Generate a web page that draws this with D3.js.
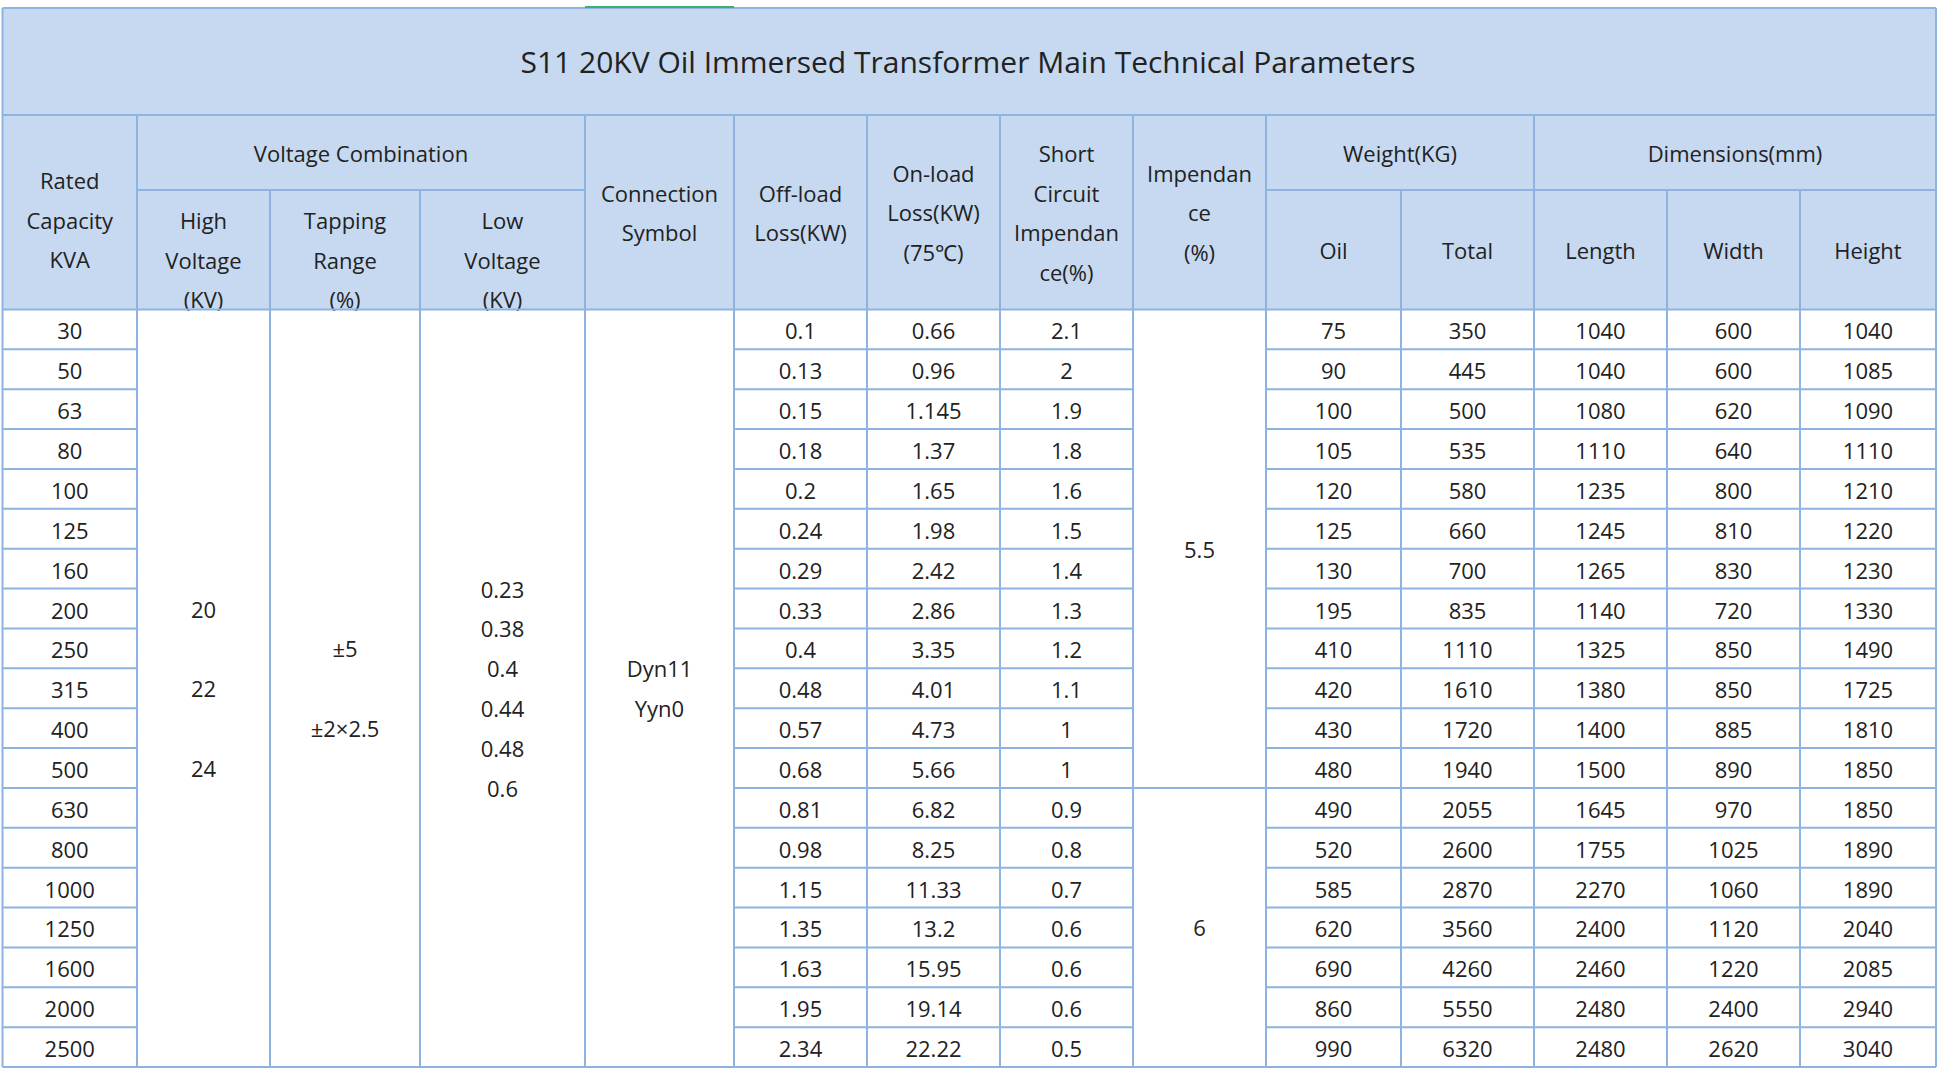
<!DOCTYPE html>
<html>
<head>
<meta charset="utf-8">
<script src="https://cdn.jsdelivr.net/npm/d3@7"></script>
<style>
  body { margin: 0; background: #fff; }
  svg text { font-family: "Open Sans", "Liberation Sans", sans-serif; fill: #222; }
</style>
</head>
<body>
<svg id="chart" width="1941" height="1073"></svg>
<script>
// table data
const title = 'S11 20KV Oil Immersed Transformer Main Technical Parameters';
const capacity = [30, 50, 63, 80, 100, 125, 160, 200, 250, 315, 400, 500, 630, 800, 1000, 1250, 1600, 2000, 2500];
const offLoadLoss = [0.1, 0.13, 0.15, 0.18, 0.2, 0.24, 0.29, 0.33, 0.4, 0.48, 0.57, 0.68, 0.81, 0.98, 1.15, 1.35, 1.63, 1.95, 2.34];
const onLoadLoss = [0.66, 0.96, 1.145, 1.37, 1.65, 1.98, 2.42, 2.86, 3.35, 4.01, 4.73, 5.66, 6.82, 8.25, 11.33, 13.2, 15.95, 19.14, 22.22];
const shortCircuit = [2.1, 2, 1.9, 1.8, 1.6, 1.5, 1.4, 1.3, 1.2, 1.1, 1, 1, 0.9, 0.8, 0.7, 0.6, 0.6, 0.6, 0.5];
const oilWeight = [75, 90, 100, 105, 120, 125, 130, 195, 410, 420, 430, 480, 490, 520, 585, 620, 690, 860, 990];
const totalWeight = [350, 445, 500, 535, 580, 660, 700, 835, 1110, 1610, 1720, 1940, 2055, 2600, 2870, 3560, 4260, 5550, 6320];
const lengthMm = [1040, 1040, 1080, 1110, 1235, 1245, 1265, 1140, 1325, 1380, 1400, 1500, 1645, 1755, 2270, 2400, 2460, 2480, 2480];
const widthMm = [600, 600, 620, 640, 800, 810, 830, 720, 850, 850, 885, 890, 970, 1025, 1060, 1120, 1220, 2400, 2620];
const heightMm = [1040, 1085, 1090, 1110, 1210, 1220, 1230, 1330, 1490, 1725, 1810, 1850, 1850, 1890, 1890, 2040, 2085, 2940, 3040];
const highVoltage = ['20', '22', '24'];
const tappingRange = ['±5', '±2×2.5'];
const lowVoltage = ['0.23', '0.38', '0.4', '0.44', '0.48', '0.6'];
const connection = ['Dyn11', 'Yyn0'];
const impedance = [{ text: '5.5', from: 0, to: 11 }, { text: '6', from: 12, to: 18 }];

const svg = d3.select('#chart');
const border = '#8db3e2';
const headFill = '#c6d9f0';

// column edges
const colEdges = [2.5, 137, 270, 420, 585, 734, 867, 1000, 1133, 1266, 1401, 1534, 1667, 1800, 1936];
const yTop = 8, titleBottom = 115, groupBottom = 190, headBottom = 309.5, yBottom = 1067;

const rows = d3.scaleBand().domain(d3.range(capacity.length)).range([headBottom, yBottom]);
const rowMid = i => rows(i) + rows.bandwidth() / 2;
const cx = c => (colEdges[c] + colEdges[c + 1]) / 2;

// header background
svg.append('rect').attr('x', colEdges[0]).attr('y', yTop)
  .attr('width', colEdges[14] - colEdges[0]).attr('height', headBottom - yTop).attr('fill', headFill);

function text(x, y, t, size) {
  svg.append('text').attr('x', x).attr('y', y).attr('text-anchor', 'middle')
    .attr('dominant-baseline', 'central').style('font-size', (size || 22) + 'px').text(t);
}
function multi(c0, c1, lines, y0, y1) {
  const x = (colEdges[c0] + colEdges[c1]) / 2;
  const lh = 39.5, mid = (y0 + y1) / 2;
  lines.forEach((l, i) => text(x, mid + (i - (lines.length - 1) / 2) * lh, l));
}

text(968, 61, title, 30);

// header texts
multi(0, 1, ['Rated', 'Capacity', 'KVA'], titleBottom + 15, headBottom);
multi(1, 4, ['Voltage Combination'], titleBottom, groupBottom);
multi(1, 2, ['High', 'Voltage', '(KV)'], groupBottom + 20, headBottom);
multi(2, 3, ['Tapping', 'Range', '(%)'], groupBottom + 20, headBottom);
multi(3, 4, ['Low', 'Voltage', '(KV)'], groupBottom + 20, headBottom);
multi(4, 5, ['Connection', 'Symbol'], titleBottom, headBottom);
multi(5, 6, ['Off-load', 'Loss(KW)'], titleBottom, headBottom);
multi(6, 7, ['On-load', 'Loss(KW)', '(75℃)'], titleBottom, headBottom);
multi(7, 8, ['Short', 'Circuit', 'Impendan', 'ce(%)'], titleBottom, headBottom);
multi(8, 9, ['Impendan', 'ce', '(%)'], titleBottom, headBottom);
multi(9, 11, ['Weight(KG)'], titleBottom, groupBottom);
multi(9, 10, ['Oil'], groupBottom, headBottom);
multi(10, 11, ['Total'], groupBottom, headBottom);
multi(11, 14, ['Dimensions(mm)'], titleBottom, groupBottom);
multi(11, 12, ['Length'], groupBottom, headBottom);
multi(12, 13, ['Width'], groupBottom, headBottom);
multi(13, 14, ['Height'], groupBottom, headBottom);

// per-row columns
const rowCols = [[0, capacity], [5, offLoadLoss], [6, onLoadLoss], [7, shortCircuit],
  [9, oilWeight], [10, totalWeight], [11, lengthMm], [12, widthMm], [13, heightMm]];
rowCols.forEach(([c, arr]) => {
  svg.append('g').selectAll('text').data(arr).join('text')
    .attr('x', cx(c)).attr('y', (d, i) => rowMid(i) + 1)
    .attr('text-anchor', 'middle').attr('dominant-baseline', 'central')
    .style('font-size', '22px').text(d => d);
});

// merged cells
highVoltage.forEach((t, i) => text(cx(1), rowMid(7 + i * 2), t));
tappingRange.forEach((t, i) => text(cx(2), rowMid(8 + i * 2), t));
lowVoltage.forEach((t, i) => text(cx(3), rows(7) + i * rows.bandwidth(), t));
connection.forEach((t, i) => text(cx(4), rows(9) + i * rows.bandwidth(), t));
impedance.forEach(d => text(cx(8), (rows(d.from) + rows(d.to) + rows.bandwidth()) / 2, d.text));

// grid lines
const lines = svg.append('g').attr('stroke', border).attr('stroke-width', 2);
const hl = (x1, x2, y) => lines.append('line').attr('x1', x1).attr('x2', x2).attr('y1', y).attr('y2', y);
const vl = (x, y1, y2) => lines.append('line').attr('x1', x).attr('x2', x).attr('y1', y1).attr('y2', y2);
hl(colEdges[0], colEdges[14], yTop);
hl(colEdges[0], colEdges[14], titleBottom);
hl(colEdges[1], colEdges[4], groupBottom);
hl(colEdges[9], colEdges[14], groupBottom);
hl(colEdges[0], colEdges[14], headBottom);
d3.range(1, capacity.length).forEach(i => {
  const y = rows(i);
  hl(colEdges[0], colEdges[1], y);
  hl(colEdges[5], colEdges[8], y);
  hl(colEdges[9], colEdges[14], y);
});
hl(colEdges[8], colEdges[9], rows(12));
hl(colEdges[0], colEdges[14], yBottom);
vl(colEdges[0], yTop, yBottom);
vl(colEdges[14], yTop, yBottom);
colEdges.slice(1, 14).forEach((x, c) => {
  const sub = [2, 3, 10, 12, 13].includes(c + 1);
  vl(x, sub ? groupBottom : titleBottom, yBottom);
});
svg.append('line').attr('x1', 585).attr('x2', 734).attr('y1', 7).attr('y2', 7)
  .attr('stroke', '#3fae6c').attr('stroke-width', 2);
</script>
</body>
</html>
